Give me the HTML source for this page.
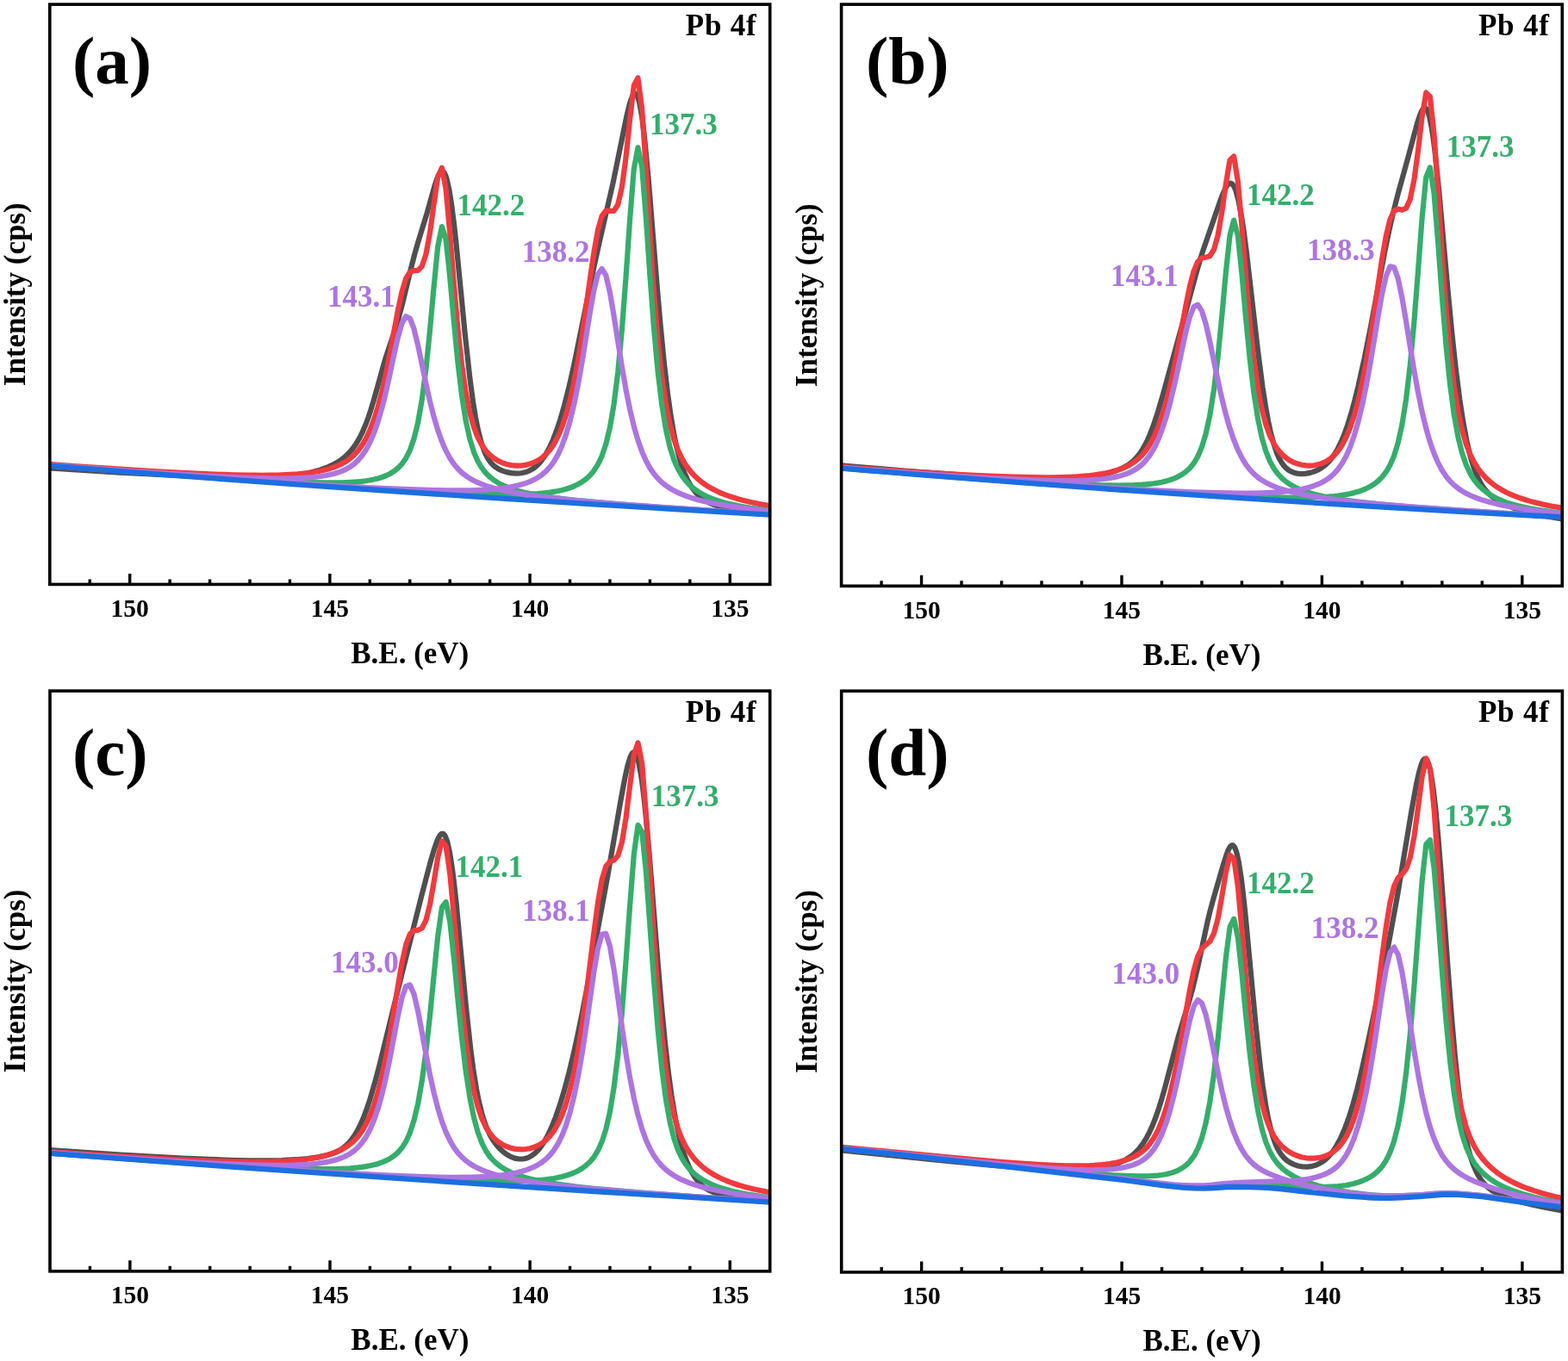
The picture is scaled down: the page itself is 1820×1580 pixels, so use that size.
<!DOCTYPE html>
<html><head><meta charset="utf-8"><title>Pb 4f XPS</title>
<style>html,body{margin:0;padding:0;background:#fff;width:1820px;height:1580px;overflow:hidden}svg{display:block}</style>
</head><body>
<svg width="1820" height="1580" viewBox="0 0 1820 1580" font-family="'Liberation Serif', 'Times New Roman', serif" font-weight="bold">
<rect width="1820" height="1580" fill="#fff"/>
<clipPath id="clipa"><rect x="57.8" y="5.1" width="835.9" height="673.3"/></clipPath>
<g clip-path="url(#clipa)" fill="none" stroke-linejoin="round" stroke-linecap="round">
<path d="M902.99,595.9 L869.55,593.13 L857.48,591.84 L848.19,590.57 L840.76,589.24 L834.26,587.69 L828.69,585.92 L823.11,583.57 L817.54,580.4 L812.9,576.93 L808.25,572.42 L804.54,567.87 L800.82,562.23 L798.04,557.11 L794.32,548.8 L791.53,541.2 L788.75,532.16 L786.89,525.2 L784.1,513.15 L782.25,503.91 L778.53,482.12 L774.82,455.39 L771.1,423.34 L766.46,375.84 L762.74,332.73 L752.53,206.37 L747.88,157.7 L745.1,135.37 L742.31,119.6 L741.38,115.88 L739.52,110.76 L738.59,109.32 L737.67,108.57 L736.74,108.5 L735.81,109.05 L734.88,110.18 L733.95,111.84 L732.09,116.57 L730.24,122.86 L727.45,134.44 L711.66,211.88 L695.87,280.43 L689.37,310.03 L666.15,424.02 L660.58,448.71 L655,470.77 L650.36,486.88 L646.65,498.21 L642,510.42 L637.36,520.57 L632.71,528.8 L628.07,535.31 L623.43,540.3 L620.64,542.66 L617.85,544.6 L614.14,546.6 L609.49,548.29 L604.85,549.24 L599.28,549.57 L593.7,549.16 L588.13,548.09 L583.49,546.66 L578.84,544.58 L575.13,542.24 L572.34,539.93 L569.56,536.94 L566.77,533.06 L563.98,528.01 L562.13,523.83 L558.41,513.04 L554.7,498.26 L551.91,484.05 L549.12,466.88 L545.41,439.22 L539.84,388.48 L529.62,283.9 L526.83,258.54 L524.05,236.8 L521.26,219.58 L518.47,207.47 L517.54,204.6 L515.69,200.62 L514.76,199.47 L513.83,198.86 L512.9,198.77 L511.97,199.17 L511.04,200.02 L509.19,202.95 L507.33,207.26 L504.54,215.62 L495.25,248.65 L485.04,281.91 L481.32,294.86 L476.68,312.86 L467.39,351.46 L462.75,369.02 L458.1,384.28 L446.96,417.56 L433.95,464.07 L430.24,476.36 L427.45,484.7 L424.67,492.24 L420.95,501.06 L417.24,508.57 L413.52,514.92 L409.81,520.27 L406.09,524.78 L401.45,529.46 L396.8,533.28 L389.37,538.1 L381.01,542.15 L371.73,545.49 L361.51,548.19 L349.44,550.44 L336.43,552.07 L321.57,553.24 L304.85,553.94 L285.35,554.2 L263.99,554.01 L238.91,553.38 L210.12,552.27 L139.53,548.59 L48.51,542.77" stroke="#4f4f4f" stroke-width="6.2"/>
<path d="M916.92,590.71 L907.63,589.42 L898.34,588.01 L884.41,585.6 L875.12,583.74 L870.48,582.72 L861.19,580.45 L856.55,579.18 L851.9,577.8 L847.26,576.3 L842.62,574.65 L837.97,572.83 L833.33,570.81 L828.69,568.55 L824.04,566.01 L819.4,563.14 L814.75,559.85 L810.11,556.06 L805.47,551.64 L800.82,546.4 L796.18,540.11 L791.53,532.36 L786.89,522.58 L782.25,509.83 L777.6,492.77 L772.96,469.53 L768.32,437.78 L763.67,395.02 L759.03,339.2 L754.38,270.32 L749.74,193.94 L745.1,126 L740.45,90.43 L735.81,99.29 L731.16,138.23 L726.52,182.77 L721.88,217.39 L717.23,237.5 L712.59,244.89 L707.94,244.89 L703.3,244.57 L698.66,250.67 L694.01,266.96 L689.37,292.86 L684.73,324.72 L680.08,358.28 L675.44,390.37 L670.79,419.21 L666.15,444.09 L661.51,464.96 L656.86,482.07 L652.22,495.87 L647.57,506.84 L642.93,515.48 L638.29,522.23 L633.64,527.46 L629,531.51 L624.35,534.6 L619.71,536.92 L615.07,538.61 L610.42,539.77 L605.78,540.44 L601.13,540.66 L596.49,540.45 L591.85,539.8 L587.2,538.69 L582.56,537.06 L577.92,534.85 L573.27,531.94 L568.63,528.17 L563.98,523.26 L559.34,516.78 L554.7,508.07 L550.05,496.09 L545.41,479.4 L540.76,456.13 L536.12,424.25 L531.48,382.01 L526.83,329.34 L522.19,270.73 L517.55,219.39 L512.9,194.78 L508.26,205.09 L503.61,236.87 L498.97,270.66 L494.33,295.58 L489.68,309.23 L485.04,313.87 L480.39,314.21 L475.75,315.87 L471.11,323.47 L466.46,338.82 L461.82,360.51 L452.53,410.65 L447.89,434.14 L443.24,454.91 L438.6,472.66 L433.95,487.46 L429.31,499.58 L424.67,509.38 L420.02,517.22 L415.38,523.48 L410.74,528.48 L406.09,532.48 L401.45,535.72 L396.8,538.37 L392.16,540.55 L387.52,542.37 L382.87,543.91 L378.23,545.21 L373.58,546.31 L368.94,547.26 L364.3,548.06 L359.65,548.75 L355.01,549.33 L345.72,550.25 L341.08,550.6 L331.79,551.14 L322.5,551.48 L313.21,551.67 L303.93,551.73 L294.64,551.7 L285.35,551.58 L271.42,551.28 L243.56,550.33 L211.05,548.82 L173.9,546.75 L132.1,544.14 L85.66,541 L34.58,537.34" stroke="#f03a3e" stroke-width="6.2"/>
<path d="M916.92,595.25 L898.34,593.31 L884.41,591.61 L870.48,589.6 L861.19,588.03 L856.55,587.15 L847.26,585.15 L842.62,584 L837.97,582.73 L833.33,581.3 L828.69,579.71 L824.04,577.89 L819.4,575.82 L814.75,573.42 L810.11,570.62 L805.47,567.3 L800.82,563.31 L796.18,558.42 L791.53,552.27 L786.89,544.31 L782.25,533.68 L777.6,519.1 L772.96,498.8 L768.32,470.59 L763.67,432.14 L759.03,381.65 L754.38,319.41 L749.74,251.35 L745.1,193.82 L740.45,171.21 L735.81,196.04 L731.16,254.34 L726.52,321.82 L721.88,382.85 L717.23,432.01 L712.59,469.2 L707.94,496.28 L703.3,515.61 L698.66,529.33 L694.01,539.2 L689.37,546.45 L684.73,551.94 L680.08,556.2 L675.44,559.58 L670.79,562.3 L666.15,564.51 L661.51,566.32 L656.86,567.81 L652.22,569.04 L647.57,570.06 L642.93,570.91 L638.29,571.61 L633.64,572.18 L624.35,573.04 L619.71,573.35 L610.42,573.79 L601.13,574.02 L591.85,574.11 L582.56,574.08 L568.63,573.86 L554.7,573.49 L540.76,573.01 L522.19,572.24 L503.61,571.35 L461.82,569.07 L406.09,565.67 L345.72,561.7 L276.06,556.86 L197.12,551.14 L118.17,545.2 L34.58,538.7" stroke="#35ad6b" stroke-width="6.2"/>
<path d="M916.92,598.4 L865.84,595.33 L819.4,592.42 L777.6,589.65 L740.45,587 L707.94,584.45 L684.73,582.41 L666.15,580.55 L647.57,578.39 L633.64,576.46 L624.35,574.94 L619.71,574.09 L610.42,572.16 L605.78,571.04 L601.13,569.79 L596.49,568.39 L591.85,566.8 L587.2,564.98 L582.56,562.86 L577.92,560.37 L573.27,557.39 L568.63,553.77 L563.98,549.24 L559.34,543.4 L554.7,535.62 L550.05,524.91 L545.41,509.91 L540.76,488.87 L536.12,459.88 L531.48,421.39 L526.83,373.57 L522.19,321.19 L517.55,277.79 L512.9,263.16 L508.26,285.83 L503.61,332.59 L498.97,384.09 L494.33,429.2 L489.68,464.64 L485.04,490.9 L480.39,509.65 L475.75,522.83 L471.11,532.08 L466.46,538.69 L461.82,543.54 L457.17,547.19 L452.53,550.02 L447.89,552.24 L443.24,554.01 L438.6,555.42 L433.95,556.56 L429.31,557.48 L424.67,558.22 L420.02,558.81 L415.38,559.28 L410.74,559.65 L406.09,559.93 L396.8,560.29 L387.52,560.44 L378.23,560.43 L359.65,560.08 L336.43,559.23 L313.21,558.11 L280.71,556.26 L243.56,553.9 L201.76,551.05 L150.68,547.39 L94.95,543.24 L34.58,538.58" stroke="#35ad6b" stroke-width="6.2"/>
<path d="M916.92,595.46 L898.34,593.75 L879.77,591.83 L861.19,589.61 L847.26,587.64 L833.33,585.32 L824.04,583.49 L814.75,581.36 L810.11,580.15 L805.47,578.83 L800.82,577.37 L796.18,575.76 L791.53,573.95 L786.89,571.92 L782.25,569.59 L777.6,566.91 L772.96,563.78 L768.32,560.05 L763.67,555.55 L759.03,550.03 L754.38,543.21 L749.74,534.72 L745.1,524.14 L740.45,511.01 L735.81,494.88 L731.16,475.38 L726.52,452.28 L721.88,425.74 L717.23,396.55 L712.59,366.65 L707.94,339.45 L703.3,319.71 L698.66,312.01 L694.01,318.36 L689.37,336.95 L684.73,363.28 L675.44,421.27 L670.79,447.42 L666.15,470.14 L661.51,489.27 L656.86,505 L652.22,517.72 L647.57,527.86 L642.93,535.88 L638.29,542.21 L633.64,547.21 L629,551.19 L624.35,554.38 L619.71,556.97 L615.07,559.1 L610.42,560.86 L605.78,562.33 L601.13,563.58 L596.49,564.62 L591.85,565.51 L587.2,566.26 L577.92,567.44 L573.27,567.89 L563.98,568.57 L554.7,569.02 L545.41,569.29 L536.12,569.42 L526.83,569.43 L517.55,569.35 L503.61,569.08 L489.68,568.69 L475.75,568.19 L443.24,566.74 L401.45,564.5 L355.01,561.69 L303.93,558.36 L243.56,554.2 L178.54,549.51 L108.88,544.3 L34.58,538.56" stroke="#ad75e0" stroke-width="6.2"/>
<path d="M916.92,598.27 L870.48,595.47 L824.04,592.56 L782.25,589.79 L745.1,587.19 L712.59,584.73 L684.73,582.42 L661.51,580.27 L642.93,578.34 L624.35,576.11 L610.42,574.16 L596.49,571.85 L587.2,570.03 L577.92,567.89 L573.27,566.67 L568.63,565.33 L563.98,563.83 L559.34,562.15 L554.7,560.24 L550.05,558.05 L545.41,555.48 L540.76,552.43 L536.12,548.74 L531.48,544.24 L526.83,538.67 L522.19,531.75 L517.55,523.15 L512.9,512.52 L508.26,499.55 L503.61,483.96 L498.97,465.67 L494.33,444.92 L485.04,400.42 L480.39,381.48 L475.75,369.45 L471.11,367.3 L466.46,375.54 L461.82,391.9 L457.17,412.71 L452.53,434.62 L447.89,455.43 L443.24,473.98 L438.6,489.87 L433.95,503.09 L429.31,513.85 L424.67,522.48 L420.02,529.3 L415.38,534.67 L410.74,538.88 L406.09,542.19 L401.45,544.81 L396.8,546.89 L392.16,548.58 L387.52,549.94 L382.87,551.06 L378.23,551.99 L373.58,552.75 L368.94,553.38 L359.65,554.31 L350.37,554.92 L345.72,555.13 L336.43,555.39 L322.5,555.48 L303.93,555.21 L285.35,554.63 L262.13,553.63 L234.27,552.17 L201.76,550.21 L164.61,547.78 L127.46,545.19 L81.02,541.8 L34.58,538.29" stroke="#ad75e0" stroke-width="6.2"/>
<path d="M902.99,598.1 L796.18,591.9 L689.37,585.4 L582.56,578.59 L475.75,571.49 L368.94,564.08 L262.13,556.37 L155.32,548.36 L48.51,540.04" stroke="#1c6ee1" stroke-width="6.3"/>
</g>
<rect x="57.8" y="5.1" width="835.9" height="673.3" fill="none" stroke="#000" stroke-width="3.6"/>
<path d="M847.26,678.4 V665.9 M800.82,678.4 V672.4 M754.38,678.4 V672.4 M707.94,678.4 V672.4 M661.51,678.4 V672.4 M615.07,678.4 V665.9 M568.63,678.4 V672.4 M522.19,678.4 V672.4 M475.75,678.4 V672.4 M429.31,678.4 V672.4 M382.87,678.4 V665.9 M336.43,678.4 V672.4 M289.99,678.4 V672.4 M243.56,678.4 V672.4 M197.12,678.4 V672.4 M150.68,678.4 V665.9 M104.24,678.4 V672.4" stroke="#000" stroke-width="3.4" fill="none"/>
<text x="150.68" y="716" text-anchor="middle" font-size="29.5">150</text>
<text x="382.87" y="716" text-anchor="middle" font-size="29.5">145</text>
<text x="615.07" y="716" text-anchor="middle" font-size="29.5">140</text>
<text x="847.26" y="716" text-anchor="middle" font-size="29.5">135</text>
<text x="475.75" y="770.2" text-anchor="middle" font-size="35">B.E. (eV)</text>
<text transform="translate(28.9,341.75) rotate(-90)" text-anchor="middle" font-size="35">Intensity (cps)</text>
<text x="84" y="96.8" font-size="79">(a)</text>
<text x="795.8" y="40.9" font-size="35" letter-spacing="0.8">Pb 4f</text>
<text x="380" y="355.8" font-size="35" fill="#ad75e0">143.1</text>
<text x="530.5" y="250" font-size="35" fill="#35ad6b">142.2</text>
<text x="605.7" y="304" font-size="35" fill="#ad75e0">138.2</text>
<text x="754.1" y="156.4" font-size="35" fill="#35ad6b">137.3</text>
<clipPath id="clipb"><rect x="976.6" y="5.1" width="836.7" height="675.2"/></clipPath>
<g clip-path="url(#clipb)" fill="none" stroke-linejoin="round" stroke-linecap="round">
<path d="M1822.6,603.85 L1808.65,601.75 L1795.64,599.49 L1783.55,597.05 L1773.32,594.62 L1764.03,592.02 L1755.66,589.24 L1748.22,586.28 L1741.72,583.13 L1736.14,579.8 L1731.49,576.35 L1726.84,572.01 L1723.12,567.63 L1719.4,562.14 L1716.61,557.09 L1713.83,551.05 L1711.04,543.82 L1708.25,535.2 L1706.39,528.57 L1702.67,512.89 L1698.02,488.13 L1694.3,463.71 L1689.65,427.07 L1685.01,383.8 L1680.36,334.87 L1670.13,220.28 L1665.48,175.45 L1663.62,160.77 L1661.76,148.45 L1658.98,134.85 L1658.05,131.65 L1656.19,127.26 L1655.26,126.02 L1654.33,125.37 L1653.4,125.29 L1652.47,125.74 L1651.54,126.68 L1649.68,129.82 L1647.82,134.36 L1645.03,143.02 L1632.94,188.04 L1622.72,224.93 L1617.14,246.67 L1612.49,266.94 L1607.84,289.35 L1591.11,378.74 L1583.67,416.09 L1576.23,449.53 L1572.52,464.55 L1568.8,478.29 L1564.15,493.48 L1560.43,503.96 L1556.71,512.97 L1552.06,522.29 L1547.42,529.7 L1542.77,535.5 L1538.12,539.98 L1532.54,544 L1528.82,546 L1524.17,547.88 L1519.53,549.15 L1514.88,549.88 L1510.23,550.06 L1505.58,549.63 L1501.86,548.74 L1498.14,547.21 L1495.35,545.51 L1492.56,543.2 L1489.78,540.13 L1486.99,536.1 L1484.2,530.91 L1482.34,526.69 L1478.62,516.07 L1474.9,502.11 L1472.11,489.15 L1469.32,473.91 L1465.6,450 L1460.03,407.16 L1447.01,294 L1444.22,272.49 L1441.43,253.64 L1437.71,233.64 L1434.93,222.95 L1434,220.24 L1432.14,216.09 L1430.28,213.6 L1429.35,212.94 L1428.42,212.65 L1427.49,212.72 L1426.56,213.13 L1425.63,213.86 L1423.77,216.16 L1421.91,219.44 L1419.12,225.77 L1415.4,235.83 L1395.88,292.27 L1392.16,304.31 L1387.51,320.58 L1373.57,372.15 L1349.4,459.94 L1343.82,478.75 L1338.24,495.39 L1334.52,504.97 L1331.73,511.29 L1328.94,516.88 L1325.22,523.26 L1322.44,527.3 L1318.72,531.81 L1315,535.49 L1310.35,539.15 L1303.84,542.99 L1295.48,546.51 L1286.18,549.27 L1275.02,551.59 L1262.94,553.3 L1248.99,554.54 L1234.12,555.25 L1216.45,555.51 L1196.93,555.3 L1174.62,554.6 L1149.52,553.43 L1121.63,551.79 L1052.83,546.82 L967.3,539.59" stroke="#4f4f4f" stroke-width="6.2"/>
<path d="M1836.54,593.19 L1827.25,591.93 L1817.95,590.54 L1804,588.18 L1794.71,586.36 L1790.06,585.36 L1780.76,583.13 L1776.11,581.88 L1771.46,580.53 L1766.82,579.05 L1762.17,577.43 L1757.52,575.65 L1752.87,573.68 L1748.22,571.48 L1743.57,569 L1738.93,566.21 L1734.28,563.03 L1729.63,559.36 L1724.98,555.1 L1720.33,550.08 L1715.69,544.05 L1711.04,536.67 L1706.39,527.39 L1701.74,515.36 L1697.09,499.37 L1692.44,477.77 L1687.8,448.48 L1683.15,409.29 L1678.5,358.29 L1673.85,295.13 L1669.2,223.63 L1664.55,155.82 L1659.9,112.11 L1655.26,107.62 L1650.61,135.67 L1645.96,175.2 L1641.31,209.47 L1636.66,231.69 L1632.01,241.86 L1627.37,243.66 L1622.72,242.64 L1618.07,244.83 L1613.42,254.76 L1608.77,273.93 L1604.12,300.67 L1599.48,331.67 L1594.83,363.6 L1590.18,394.06 L1585.53,421.66 L1580.88,445.77 L1576.24,466.25 L1571.59,483.26 L1566.94,497.09 L1562.29,508.16 L1557.64,516.89 L1552.99,523.68 L1548.35,528.89 L1543.7,532.85 L1539.05,535.8 L1534.4,537.92 L1529.75,539.37 L1525.1,540.23 L1520.45,540.57 L1515.81,540.41 L1511.16,539.77 L1506.51,538.61 L1501.86,536.9 L1497.21,534.55 L1492.56,531.45 L1487.92,527.41 L1483.27,522.13 L1478.62,515.14 L1473.97,505.74 L1469.32,492.85 L1464.67,475.06 L1460.03,450.58 L1455.38,417.54 L1450.73,374.46 L1446.08,321.44 L1441.43,262.71 L1436.79,210.12 L1432.14,181.39 L1427.49,185.91 L1422.84,213.76 L1418.19,246.93 L1413.54,273.6 L1408.9,289.99 L1404.25,297.2 L1399.6,298.8 L1394.95,299.48 L1390.3,303.81 L1385.65,314.65 L1381,332.33 L1376.36,355.04 L1367.06,405.23 L1362.41,428.8 L1357.76,449.95 L1353.11,468.34 L1348.47,483.95 L1343.82,496.95 L1339.17,507.6 L1334.52,516.23 L1329.87,523.16 L1325.22,528.7 L1320.58,533.14 L1315.93,536.72 L1311.28,539.62 L1306.63,542.01 L1301.98,543.98 L1297.34,545.63 L1292.69,547.03 L1288.04,548.22 L1283.39,549.23 L1278.74,550.11 L1274.09,550.85 L1269.45,551.49 L1264.8,552.04 L1255.5,552.9 L1250.85,553.24 L1241.55,553.74 L1232.26,554.06 L1222.96,554.24 L1213.66,554.29 L1199.72,554.2 L1176.48,553.68 L1148.59,552.63 L1120.7,551.28 L1083.51,549.15 L1046.33,546.75 L999.84,543.5 L953.36,540.04" stroke="#f03a3e" stroke-width="6.2"/>
<path d="M1836.54,598.01 L1817.95,596.16 L1804,594.53 L1790.06,592.6 L1780.76,591.09 L1776.11,590.24 L1766.82,588.31 L1762.17,587.2 L1757.52,585.97 L1752.87,584.6 L1748.22,583.07 L1743.57,581.33 L1738.93,579.34 L1734.28,577.04 L1729.63,574.37 L1724.98,571.2 L1720.33,567.41 L1715.69,562.78 L1711.04,556.99 L1706.39,549.52 L1701.74,539.6 L1697.09,526.09 L1692.44,507.44 L1687.8,481.74 L1683.15,446.94 L1678.5,401.4 L1673.85,345.06 L1669.2,282.08 L1664.55,224.9 L1659.9,194.31 L1655.26,205.81 L1650.61,252.99 L1645.96,314.94 L1641.31,374.7 L1636.66,424.83 L1632.01,463.87 L1627.37,492.96 L1622.72,514.05 L1618.07,529.16 L1613.42,540.02 L1608.77,547.96 L1604.12,553.91 L1599.48,558.48 L1594.83,562.08 L1590.18,564.97 L1585.53,567.31 L1580.88,569.23 L1576.24,570.81 L1571.59,572.11 L1566.94,573.2 L1562.29,574.1 L1557.64,574.84 L1552.99,575.46 L1548.35,575.97 L1539.05,576.73 L1529.75,577.21 L1520.45,577.49 L1511.16,577.61 L1501.86,577.6 L1492.56,577.5 L1478.62,577.21 L1450.73,576.26 L1432.14,575.45 L1413.54,574.53 L1367.06,571.93 L1311.28,568.44 L1246.2,564.04 L1176.48,559.04 L1106.75,553.81 L1032.38,548 L953.36,541.58" stroke="#35ad6b" stroke-width="6.2"/>
<path d="M1836.54,601.07 L1785.41,598.2 L1738.93,595.42 L1697.09,592.74 L1659.9,590.15 L1632.01,588 L1604.12,585.55 L1585.53,583.66 L1576.24,582.6 L1566.94,581.43 L1552.99,579.4 L1543.7,577.8 L1539.05,576.91 L1529.75,574.85 L1525.1,573.65 L1520.45,572.32 L1515.81,570.82 L1511.16,569.11 L1506.51,567.16 L1501.86,564.88 L1497.21,562.2 L1492.56,559 L1487.92,555.09 L1483.27,550.19 L1478.62,543.87 L1473.97,535.45 L1469.32,523.94 L1464.67,507.98 L1460.03,485.94 L1455.38,456.1 L1450.73,417.18 L1446.08,369.51 L1441.43,317.63 L1436.79,273.67 L1432.14,255.65 L1427.49,273.22 L1422.84,316.64 L1418.19,367.91 L1413.54,414.92 L1408.9,453.18 L1404.25,482.37 L1399.6,503.75 L1394.95,519.06 L1390.3,529.94 L1385.65,537.73 L1381,543.43 L1376.36,547.7 L1371.71,550.99 L1367.06,553.57 L1362.41,555.63 L1357.76,557.29 L1353.11,558.63 L1348.47,559.71 L1343.82,560.59 L1339.17,561.31 L1334.52,561.89 L1329.87,562.35 L1325.22,562.71 L1315.93,563.2 L1306.63,563.45 L1297.34,563.53 L1288.04,563.46 L1278.74,563.29 L1255.5,562.53 L1227.61,561.21 L1195.07,559.34 L1157.89,556.93 L1116.05,554.01 L1064.92,550.23 L1009.14,545.9 L953.36,541.42" stroke="#35ad6b" stroke-width="6.2"/>
<path d="M1836.54,598.06 L1817.95,596.41 L1799.35,594.55 L1780.76,592.37 L1766.82,590.45 L1752.87,588.16 L1743.57,586.36 L1734.28,584.27 L1729.63,583.09 L1724.98,581.8 L1720.33,580.37 L1715.69,578.79 L1711.04,577.02 L1706.39,575.02 L1701.74,572.73 L1697.09,570.07 L1692.44,566.94 L1687.8,563.19 L1683.15,558.62 L1678.5,553.01 L1673.85,546.03 L1669.2,537.36 L1664.55,526.59 L1659.9,513.33 L1655.26,497.21 L1650.61,477.94 L1645.96,455.42 L1641.31,429.81 L1636.66,401.8 L1632.01,372.85 L1627.37,345.48 L1622.72,323.31 L1618.07,310.33 L1613.42,309.37 L1608.77,320.58 L1604.12,341.38 L1599.48,367.82 L1594.83,396.19 L1590.18,423.83 L1585.53,449.19 L1580.88,471.51 L1576.24,490.57 L1571.59,506.46 L1566.94,519.46 L1562.29,529.92 L1557.64,538.25 L1552.99,544.83 L1548.35,550.03 L1543.7,554.13 L1539.05,557.41 L1534.4,560.04 L1529.75,562.19 L1525.1,563.96 L1520.45,565.43 L1515.81,566.67 L1511.16,567.71 L1506.51,568.59 L1501.86,569.35 L1497.21,569.98 L1487.92,570.98 L1483.27,571.36 L1473.97,571.93 L1464.67,572.31 L1455.38,572.52 L1446.08,572.6 L1436.79,572.58 L1427.49,572.47 L1413.54,572.18 L1385.65,571.25 L1353.11,569.77 L1311.28,567.49 L1264.8,564.63 L1209.02,560.91 L1148.59,556.61 L1088.16,552.09 L1023.08,547.03 L953.36,541.4" stroke="#ad75e0" stroke-width="6.2"/>
<path d="M1836.54,600.92 L1790.06,598.29 L1743.57,595.51 L1706.39,593.15 L1669.2,590.63 L1641.31,588.58 L1613.42,586.35 L1590.18,584.28 L1566.94,581.92 L1548.35,579.72 L1534.4,577.8 L1520.45,575.54 L1511.16,573.78 L1506.51,572.79 L1497.21,570.57 L1492.56,569.3 L1487.92,567.89 L1483.27,566.33 L1478.62,564.56 L1473.97,562.54 L1469.32,560.2 L1464.67,557.44 L1460.03,554.13 L1455.38,550.11 L1450.73,545.16 L1446.08,539.05 L1441.43,531.49 L1436.79,522.17 L1432.14,510.79 L1427.49,497.09 L1422.84,480.9 L1418.19,462.2 L1413.54,441.28 L1404.25,396.32 L1399.6,375.99 L1394.95,360.84 L1390.3,353.77 L1385.65,356.31 L1381,367.8 L1376.36,385.75 L1371.71,407.07 L1367.06,429.13 L1362.41,450.16 L1357.76,469.2 L1353.11,485.81 L1348.47,499.89 L1343.82,511.56 L1339.17,521.07 L1334.52,528.68 L1329.87,534.72 L1325.22,539.48 L1320.58,543.23 L1315.93,546.17 L1311.28,548.51 L1306.63,550.38 L1301.98,551.89 L1297.34,553.13 L1292.69,554.14 L1288.04,554.97 L1283.39,555.66 L1278.74,556.24 L1274.09,556.71 L1264.8,557.4 L1260.15,557.64 L1250.85,557.97 L1236.91,558.14 L1218.31,557.95 L1199.72,557.42 L1176.48,556.46 L1148.59,555 L1116.05,553.03 L1078.86,550.54 L1041.68,547.87 L999.84,544.72 L953.36,541.06" stroke="#ad75e0" stroke-width="6.2"/>
<path d="M1822.6,600.9 L1715.68,595.08 L1608.77,588.85 L1501.86,582.22 L1394.95,575.18 L1288.04,567.74 L1181.13,559.89 L1074.21,551.63 L967.3,542.97" stroke="#1c6ee1" stroke-width="6.3"/>
</g>
<rect x="976.6" y="5.1" width="836.7" height="675.2" fill="none" stroke="#000" stroke-width="3.6"/>
<path d="M1766.82,680.3 V667.8 M1720.33,680.3 V674.3 M1673.85,680.3 V674.3 M1627.37,680.3 V674.3 M1580.88,680.3 V674.3 M1534.4,680.3 V667.8 M1487.92,680.3 V674.3 M1441.43,680.3 V674.3 M1394.95,680.3 V674.3 M1348.47,680.3 V674.3 M1301.98,680.3 V667.8 M1255.5,680.3 V674.3 M1209.02,680.3 V674.3 M1162.53,680.3 V674.3 M1116.05,680.3 V674.3 M1069.57,680.3 V667.8 M1023.08,680.3 V674.3" stroke="#000" stroke-width="3.4" fill="none"/>
<text x="1069.57" y="717.5" text-anchor="middle" font-size="29.5">150</text>
<text x="1301.98" y="717.5" text-anchor="middle" font-size="29.5">145</text>
<text x="1534.4" y="717.5" text-anchor="middle" font-size="29.5">140</text>
<text x="1766.82" y="717.5" text-anchor="middle" font-size="29.5">135</text>
<text x="1394.95" y="772" text-anchor="middle" font-size="35">B.E. (eV)</text>
<text transform="translate(947.8,342.7) rotate(-90)" text-anchor="middle" font-size="35">Intensity (cps)</text>
<text x="1005" y="96.8" font-size="79">(b)</text>
<text x="1715.9" y="41" font-size="35" letter-spacing="0.8">Pb 4f</text>
<text x="1289.1" y="332.1" font-size="35" fill="#ad75e0">143.1</text>
<text x="1447" y="237.9" font-size="35" fill="#35ad6b">142.2</text>
<text x="1516.9" y="301.9" font-size="35" fill="#ad75e0">138.3</text>
<text x="1678.7" y="181.9" font-size="35" fill="#35ad6b">137.3</text>
<clipPath id="clipc"><rect x="58" y="802.1" width="835.7" height="673.7"/></clipPath>
<g clip-path="url(#clipc)" fill="none" stroke-linejoin="round" stroke-linecap="round">
<path d="M902.99,1392.8 L863.06,1389.88 L845.42,1388.07 L837.99,1386.84 L832.42,1385.51 L827.77,1384 L823.13,1381.94 L818.49,1379.16 L813.84,1375.4 L810.13,1371.49 L806.42,1366.59 L802.7,1360.47 L799.92,1354.92 L796.2,1345.99 L793.42,1337.94 L788.77,1321.34 L784.13,1299.77 L779.49,1271.95 L775.77,1244.31 L772.06,1211.37 L767.42,1162.74 L763.7,1118.67 L753.49,989.72 L750.7,958.02 L747.92,930.2 L746.06,914.35 L744.2,900.94 L741.42,885.74 L740.49,882.03 L738.63,876.64 L737.7,874.94 L736.77,873.89 L735.85,873.46 L734.92,873.64 L733.99,874.39 L733.06,875.69 L731.2,879.79 L728.42,889.19 L725.63,901.59 L720.99,926.42 L705.2,1017.38 L681.06,1148.66 L675.49,1177.3 L669.92,1204.29 L665.28,1225.2 L660.63,1244.51 L655.06,1265.43 L649.49,1283.8 L644.85,1297.14 L639.28,1310.81 L634.63,1320.28 L631.85,1325.15 L629.06,1329.44 L626.28,1333.17 L623.49,1336.35 L620.7,1339.01 L617.92,1341.18 L614.2,1343.36 L610.49,1344.78 L606.78,1345.5 L602.13,1345.51 L597.49,1344.6 L592.85,1342.83 L588.21,1340.21 L584.49,1337.49 L579.85,1333.2 L576.13,1328.95 L572.42,1323.78 L569.63,1319.15 L566.85,1313.67 L564.06,1307.14 L561.28,1299.26 L559.42,1293.09 L555.71,1278.01 L552.92,1263.83 L549.21,1240.43 L546.42,1219.22 L540.85,1167.78 L529.71,1049.59 L526.92,1024.04 L525.06,1009.26 L522.28,991.1 L519.49,978.19 L518.56,975.07 L516.71,970.55 L515.78,969.12 L514.85,968.21 L513.92,967.8 L512.99,967.84 L512.06,968.32 L511.14,969.2 L509.28,972.02 L507.42,976.02 L503.71,986.61 L499.06,1002.66 L488.85,1041.75 L466.56,1130.22 L440.56,1236.12 L434.99,1257.24 L429.42,1276.23 L425.71,1287.42 L421.99,1297.31 L419.21,1303.86 L415.49,1311.45 L411.78,1317.82 L408.07,1323.09 L404.35,1327.38 L399.71,1331.6 L396.92,1333.64 L393.21,1335.88 L386.71,1338.82 L378.35,1341.39 L369.07,1343.31 L356.99,1344.99 L343.07,1346.22 L327.28,1347.02 L308.71,1347.4 L288.28,1347.33 L266,1346.86 L211.21,1344.64 L139.71,1340.56 L48.71,1334.46" stroke="#4f4f4f" stroke-width="6.2"/>
<path d="M916.91,1388.04 L902.99,1385.89 L889.06,1383.41 L879.77,1381.51 L875.13,1380.47 L865.84,1378.16 L861.2,1376.87 L856.56,1375.48 L851.91,1373.96 L847.27,1372.31 L842.63,1370.49 L837.99,1368.48 L833.34,1366.25 L828.7,1363.75 L824.06,1360.93 L819.42,1357.74 L814.77,1354.07 L810.13,1349.82 L805.49,1344.84 L800.84,1338.88 L796.2,1331.58 L791.56,1322.39 L786.92,1310.46 L782.27,1294.53 L777.63,1272.92 L772.99,1243.59 L768.35,1204.35 L763.7,1153.39 L759.06,1090.18 L749.77,943.54 L745.13,885.82 L740.49,862.36 L735.85,876.28 L731.2,911.82 L726.56,949.49 L721.92,977.7 L717.27,993.25 L712.63,998.68 L707.99,1000.21 L703.35,1005.6 L698.7,1020.85 L694.06,1047.39 L689.42,1082.14 L684.77,1120.19 L680.13,1157.37 L675.49,1191.18 L670.85,1220.51 L666.2,1245.16 L661.56,1265.38 L656.92,1281.67 L652.28,1294.6 L647.63,1304.74 L642.99,1312.65 L638.35,1318.77 L633.7,1323.48 L629.06,1327.09 L624.42,1329.81 L619.78,1331.8 L615.13,1333.18 L610.49,1334.01 L605.85,1334.35 L601.2,1334.2 L596.56,1333.57 L591.92,1332.43 L587.28,1330.74 L582.63,1328.4 L577.99,1325.3 L573.35,1321.22 L568.71,1315.83 L564.06,1308.61 L559.42,1298.79 L554.78,1285.34 L550.13,1266.93 L545.49,1242.07 L540.85,1209.37 L536.21,1168 L531.56,1118.52 L526.92,1064.49 L522.28,1014.61 L517.64,982.11 L512.99,976.63 L508.35,994.77 L503.71,1023.28 L499.06,1049.89 L494.42,1068.33 L489.78,1077.48 L485.14,1079.81 L480.49,1080.2 L475.85,1084.41 L471.21,1096.67 L466.56,1117.57 L461.92,1144.45 L457.28,1173.52 L452.64,1201.69 L447.99,1227.18 L443.35,1249.24 L438.71,1267.77 L434.06,1283.01 L429.42,1295.34 L424.78,1305.22 L420.14,1313.09 L415.49,1319.34 L410.85,1324.34 L406.21,1328.36 L401.57,1331.64 L396.92,1334.34 L392.28,1336.59 L387.64,1338.48 L382.99,1340.08 L378.35,1341.45 L373.71,1342.62 L369.07,1343.63 L364.42,1344.5 L359.78,1345.24 L355.14,1345.88 L345.85,1346.9 L341.21,1347.3 L331.92,1347.91 L322.64,1348.33 L313.35,1348.59 L304.07,1348.72 L294.78,1348.74 L285.5,1348.68 L271.57,1348.45 L257.64,1348.09 L243.71,1347.63 L211.21,1346.26 L174.07,1344.34 L132.28,1341.89 L85.86,1338.92 L34.79,1335.45" stroke="#f03a3e" stroke-width="6.2"/>
<path d="M916.91,1393.02 L898.34,1390.93 L884.41,1389.1 L870.49,1386.93 L861.2,1385.22 L851.91,1383.22 L847.27,1382.08 L842.63,1380.82 L837.99,1379.42 L833.34,1377.86 L828.7,1376.1 L824.06,1374.1 L819.42,1371.81 L814.77,1369.15 L810.13,1366.03 L805.49,1362.3 L800.84,1357.76 L796.2,1352.07 L791.56,1344.71 L786.92,1334.89 L782.27,1321.41 L777.63,1302.7 L772.99,1276.82 L768.35,1241.75 L763.7,1195.93 L759.06,1139.11 L749.77,1010.58 L745.13,965.55 L740.49,957.9 L735.85,991.29 L731.2,1050.33 L726.56,1115.65 L721.92,1175.2 L717.27,1224.28 L712.63,1262.3 L707.99,1290.51 L703.35,1310.86 L698.7,1325.34 L694.06,1335.67 L689.42,1343.18 L684.77,1348.78 L680.13,1353.09 L675.49,1356.49 L670.85,1359.22 L666.2,1361.44 L661.56,1363.27 L656.92,1364.78 L652.28,1366.03 L647.63,1367.07 L642.99,1367.94 L638.35,1368.66 L633.7,1369.25 L629.06,1369.75 L624.42,1370.15 L615.13,1370.74 L605.85,1371.1 L596.56,1371.28 L587.28,1371.32 L573.35,1371.2 L559.42,1370.9 L545.49,1370.47 L512.99,1369.12 L471.21,1366.96 L420.14,1363.96 L359.78,1360.11 L285.5,1355.11 L206.57,1349.57 L123,1343.52 L34.79,1336.94" stroke="#35ad6b" stroke-width="6.2"/>
<path d="M916.91,1396.37 L865.84,1393.12 L819.42,1390.04 L777.63,1387.09 L745.13,1384.63 L712.63,1381.91 L689.42,1379.72 L670.85,1377.71 L661.56,1376.59 L652.28,1375.35 L638.35,1373.22 L629.06,1371.54 L624.42,1370.6 L615.13,1368.44 L610.49,1367.2 L605.85,1365.81 L601.2,1364.26 L596.56,1362.49 L591.92,1360.47 L587.28,1358.13 L582.63,1355.38 L577.99,1352.08 L573.35,1348.02 L568.71,1342.87 L564.06,1336.15 L559.42,1327.12 L554.78,1314.77 L550.13,1297.83 L545.49,1274.93 L540.85,1244.78 L536.21,1206.72 L531.56,1161.53 L526.92,1113.06 L522.28,1070.36 L517.64,1047.04 L512.99,1053.14 L508.35,1085.66 L503.71,1131.63 L499.06,1178.86 L494.42,1220.69 L489.78,1254.8 L485.14,1281.16 L480.49,1300.77 L475.85,1315 L471.21,1325.2 L466.56,1332.54 L461.92,1337.9 L457.28,1341.92 L452.64,1345.01 L447.99,1347.44 L443.35,1349.38 L438.71,1350.95 L434.06,1352.24 L429.42,1353.29 L424.78,1354.15 L420.14,1354.85 L415.49,1355.42 L406.21,1356.25 L401.57,1356.53 L392.28,1356.92 L378.35,1357.13 L369.07,1357.1 L359.78,1356.96 L336.57,1356.28 L313.35,1355.29 L285.5,1353.84 L248.35,1351.65 L206.57,1348.97 L155.5,1345.49 L99.79,1341.53 L34.79,1336.76" stroke="#35ad6b" stroke-width="6.2"/>
<path d="M916.91,1393.29 L898.34,1391.46 L879.77,1389.4 L870.49,1388.26 L861.2,1387 L847.27,1384.87 L837.99,1383.23 L833.34,1382.33 L824.06,1380.32 L814.77,1377.97 L810.13,1376.63 L805.49,1375.15 L800.84,1373.52 L796.2,1371.7 L791.56,1369.66 L786.92,1367.35 L782.27,1364.69 L777.63,1361.6 L772.99,1357.96 L768.35,1353.6 L763.7,1348.28 L759.06,1341.71 L754.42,1333.52 L749.77,1323.26 L745.13,1310.42 L740.49,1294.45 L735.85,1274.84 L731.2,1251.2 L726.56,1223.42 L721.92,1191.97 L717.27,1158.33 L712.63,1125.65 L707.99,1098.88 L703.35,1083.86 L698.7,1084.58 L694.06,1100.75 L689.42,1127.98 L680.13,1193.33 L675.49,1223.8 L670.85,1250.48 L666.2,1273.02 L661.56,1291.56 L656.92,1306.53 L652.28,1318.43 L647.63,1327.82 L642.99,1335.2 L638.35,1341 L633.7,1345.6 L629.06,1349.27 L624.42,1352.25 L619.78,1354.69 L615.13,1356.71 L610.49,1358.4 L605.85,1359.82 L601.2,1361.02 L596.56,1362.04 L591.92,1362.91 L587.28,1363.65 L582.63,1364.27 L577.99,1364.8 L568.71,1365.61 L559.42,1366.16 L550.13,1366.51 L540.85,1366.71 L531.56,1366.77 L522.28,1366.74 L508.35,1366.53 L485.14,1365.89 L452.64,1364.57 L415.49,1362.7 L369.07,1360.02 L318,1356.82 L257.64,1352.81 L188,1347.98 L113.71,1342.64 L34.79,1336.8" stroke="#ad75e0" stroke-width="6.2"/>
<path d="M916.91,1396.33 L865.84,1393.09 L819.42,1390.03 L777.63,1387.14 L745.13,1384.76 L712.63,1382.21 L684.77,1379.82 L661.56,1377.59 L642.99,1375.57 L624.42,1373.24 L610.49,1371.18 L601.2,1369.6 L596.56,1368.73 L587.28,1366.78 L577.99,1364.48 L573.35,1363.17 L568.71,1361.71 L564.06,1360.09 L559.42,1358.25 L554.78,1356.16 L550.13,1353.75 L545.49,1350.91 L540.85,1347.53 L536.21,1343.42 L531.56,1338.36 L526.92,1332.06 L522.28,1324.19 L517.64,1314.34 L512.99,1302.11 L508.35,1287.1 L503.71,1269.03 L499.06,1247.82 L494.42,1223.85 L489.78,1198.34 L485.14,1173.77 L480.49,1154.01 L475.85,1143.48 L471.21,1145.02 L466.56,1158.09 L461.92,1179.13 L452.64,1228.31 L447.99,1250.91 L443.35,1270.56 L438.71,1287.07 L434.06,1300.59 L429.42,1311.43 L424.78,1320.02 L420.14,1326.75 L415.49,1332.02 L410.85,1336.13 L406.21,1339.38 L401.57,1341.95 L396.92,1344.02 L392.28,1345.7 L387.64,1347.08 L382.99,1348.22 L378.35,1349.16 L373.71,1349.94 L369.07,1350.59 L359.78,1351.56 L350.5,1352.21 L345.85,1352.43 L336.57,1352.73 L322.64,1352.86 L304.07,1352.65 L285.5,1352.13 L262.28,1351.19 L234.43,1349.8 L206.57,1348.21 L174.07,1346.19 L132.28,1343.43 L85.86,1340.2 L34.79,1336.52" stroke="#ad75e0" stroke-width="6.2"/>
<path d="M902.99,1396.16 L689.42,1382.99 L475.85,1368.95 L262.28,1354.03 L48.71,1338.25" stroke="#1c6ee1" stroke-width="6.3"/>
</g>
<rect x="58" y="802.1" width="835.7" height="673.7" fill="none" stroke="#000" stroke-width="3.6"/>
<path d="M847.27,1475.8 V1463.3 M800.84,1475.8 V1469.8 M754.42,1475.8 V1469.8 M707.99,1475.8 V1469.8 M661.56,1475.8 V1469.8 M615.13,1475.8 V1463.3 M568.71,1475.8 V1469.8 M522.28,1475.8 V1469.8 M475.85,1475.8 V1469.8 M429.42,1475.8 V1469.8 M382.99,1475.8 V1463.3 M336.57,1475.8 V1469.8 M290.14,1475.8 V1469.8 M243.71,1475.8 V1469.8 M197.28,1475.8 V1469.8 M150.86,1475.8 V1463.3 M104.43,1475.8 V1469.8" stroke="#000" stroke-width="3.4" fill="none"/>
<text x="150.86" y="1513" text-anchor="middle" font-size="29.5">150</text>
<text x="382.99" y="1513" text-anchor="middle" font-size="29.5">145</text>
<text x="615.13" y="1513" text-anchor="middle" font-size="29.5">140</text>
<text x="847.27" y="1513" text-anchor="middle" font-size="29.5">135</text>
<text x="475.85" y="1567" text-anchor="middle" font-size="35">B.E. (eV)</text>
<text transform="translate(28.9,1138.95) rotate(-90)" text-anchor="middle" font-size="35">Intensity (cps)</text>
<text x="84" y="900" font-size="79">(c)</text>
<text x="795.8" y="838" font-size="35" letter-spacing="0.8">Pb 4f</text>
<text x="384.1" y="1128.6" font-size="35" fill="#ad75e0">143.0</text>
<text x="528.4" y="1017.9" font-size="35" fill="#35ad6b">142.1</text>
<text x="606.1" y="1068.9" font-size="35" fill="#ad75e0">138.1</text>
<text x="755.8" y="935.6" font-size="35" fill="#35ad6b">137.3</text>
<clipPath id="clipd"><rect x="976.7" y="802.2" width="836.7" height="674.7"/></clipPath>
<g clip-path="url(#clipd)" fill="none" stroke-linejoin="round" stroke-linecap="round">
<path d="M1822.7,1407.26 L1792.95,1401.76 L1779,1398.77 L1767.85,1396.09 L1757.62,1393.29 L1749.25,1390.62 L1742.75,1388.12 L1737.17,1385.43 L1731.59,1382 L1726.94,1378.35 L1723.22,1374.7 L1719.5,1370.17 L1715.78,1364.45 L1713,1359.13 L1710.21,1352.63 L1707.42,1344.66 L1704.63,1334.87 L1702.77,1327.14 L1699.05,1308.2 L1695.33,1283.77 L1692.54,1261.3 L1688.82,1225.38 L1685.11,1182.78 L1681.39,1134.56 L1672.09,1006.1 L1669.3,971.38 L1666.51,941.11 L1663.72,916.45 L1660.93,898.15 L1660,893.52 L1658.15,886.47 L1656.29,882.27 L1655.36,881.2 L1654.43,880.78 L1653.5,880.98 L1652.57,881.76 L1651.64,883.1 L1649.78,887.3 L1646.99,896.81 L1644.2,909.32 L1638.62,939.86 L1621.89,1040.5 L1611.66,1096.29 L1604.22,1132.98 L1587.49,1211.36 L1580.98,1240.66 L1575.41,1263.73 L1570.76,1280.91 L1566.11,1295.96 L1561.46,1308.87 L1555.88,1321.67 L1551.23,1330.3 L1548.44,1334.67 L1545.66,1338.49 L1542.87,1341.8 L1540.08,1344.64 L1537.29,1347.04 L1534.5,1349.05 L1530.78,1351.17 L1526.13,1353.04 L1521.48,1354.17 L1516.84,1354.62 L1512.19,1354.43 L1506.61,1353.43 L1501.96,1351.91 L1497.31,1349.65 L1493.59,1347.13 L1490.81,1344.66 L1488.02,1341.54 L1485.23,1337.56 L1482.44,1332.48 L1480.58,1328.33 L1477.79,1320.72 L1475.93,1314.58 L1472.21,1299.22 L1469.42,1284.64 L1465.7,1260.64 L1462.92,1239.05 L1457.34,1187.35 L1445.25,1058.96 L1442.46,1033.41 L1440.6,1018.68 L1437.81,1000.84 L1435.96,992.1 L1435.03,988.7 L1433.17,983.87 L1432.24,982.39 L1431.31,981.51 L1430.38,981.21 L1429.45,981.43 L1428.52,982.14 L1427.59,983.29 L1425.73,986.74 L1423.87,991.4 L1420.15,1002.96 L1408.07,1044.56 L1404.35,1058.51 L1401.56,1070.06 L1390.4,1122.02 L1384.82,1145.64 L1380.18,1162.4 L1368.09,1202.09 L1352.29,1262.29 L1348.57,1275.41 L1344.85,1287.36 L1341.13,1298.02 L1337.41,1307.37 L1333.69,1315.45 L1329.97,1322.35 L1326.25,1328.18 L1322.54,1333.07 L1317.89,1338.04 L1313.24,1341.99 L1306.73,1346.2 L1299.29,1349.7 L1290.93,1352.49 L1281.63,1354.6 L1270.47,1356.22 L1258.39,1357.21 L1244.44,1357.67 L1228.64,1357.58 L1212.84,1357.06 L1195.17,1356.11 L1152.41,1352.85 L1094.77,1347.39 L967.4,1334.64" stroke="#4f4f4f" stroke-width="6.2"/>
<path d="M1836.64,1395.98 L1827.35,1394.19 L1818.05,1392.25 L1804.1,1389 L1794.81,1386.57 L1790.16,1385.25 L1780.86,1382.37 L1776.21,1380.79 L1771.56,1379.1 L1766.92,1377.28 L1762.27,1375.31 L1757.62,1373.17 L1752.97,1370.84 L1748.32,1368.29 L1743.68,1365.47 L1739.03,1362.27 L1734.38,1358.66 L1729.73,1354.58 L1725.08,1349.94 L1720.43,1344.6 L1715.79,1338.33 L1711.14,1330.75 L1706.49,1321.13 L1701.84,1308.54 L1697.19,1291.68 L1692.54,1268.8 L1687.9,1237.88 L1683.25,1196.87 L1678.6,1144.3 L1673.95,1080.34 L1669.3,1008.81 L1664.65,940.33 L1660,892.64 L1655.36,880.51 L1650.71,901.22 L1646.06,937.14 L1641.41,971.42 L1636.76,995.74 L1632.11,1008.96 L1627.47,1014.61 L1622.82,1018.91 L1618.17,1028.48 L1613.52,1047.45 L1608.87,1075.77 L1604.22,1110.14 L1599.58,1146.45 L1594.93,1181.44 L1590.28,1213.15 L1585.63,1240.71 L1580.98,1263.92 L1576.34,1283 L1571.69,1298.36 L1567.04,1310.46 L1562.39,1319.85 L1557.74,1327.03 L1553.09,1332.47 L1548.45,1336.54 L1543.8,1339.55 L1539.15,1341.72 L1534.5,1343.23 L1529.85,1344.18 L1525.2,1344.65 L1520.55,1344.7 L1515.91,1344.3 L1511.26,1343.44 L1506.61,1342.09 L1501.96,1340.23 L1497.31,1337.81 L1492.66,1334.7 L1488.02,1330.76 L1483.37,1325.68 L1478.72,1319.02 L1474.07,1310.05 L1469.42,1297.75 L1464.78,1280.71 L1460.13,1257.25 L1455.48,1225.74 L1450.83,1185.08 L1446.18,1135.54 L1441.53,1080.65 L1436.89,1029.64 L1432.24,996.93 L1427.59,992.72 L1422.94,1012.26 L1418.29,1040.85 L1413.64,1066.39 L1409,1083.67 L1404.35,1092.73 L1395.05,1101.04 L1390.4,1109.98 L1385.75,1126.13 L1381.1,1148.77 L1376.46,1175.16 L1371.81,1202.33 L1367.16,1228.07 L1362.51,1251.17 L1357.86,1271.1 L1353.21,1287.79 L1348.57,1301.45 L1343.92,1312.42 L1339.27,1321.08 L1334.62,1327.86 L1329.97,1333.13 L1325.33,1337.23 L1320.68,1340.44 L1316.03,1342.98 L1311.38,1345.01 L1306.73,1346.67 L1302.08,1348.05 L1297.44,1349.22 L1292.79,1350.18 L1288.14,1350.97 L1283.49,1351.61 L1278.84,1352.13 L1269.55,1352.86 L1264.9,1353.1 L1255.6,1353.37 L1246.3,1353.42 L1237.01,1353.29 L1223.06,1352.84 L1204.47,1351.91 L1181.23,1350.37 L1157.99,1348.54 L1116.15,1344.81 L1004.59,1334.31 L953.46,1329.59" stroke="#f03a3e" stroke-width="6.2"/>
<path d="M1836.64,1400.43 L1827.35,1398.98 L1818.05,1397.43 L1804.1,1394.87 L1790.16,1391.96 L1780.86,1389.76 L1771.56,1387.27 L1766.92,1385.9 L1762.27,1384.41 L1757.62,1382.8 L1752.97,1381.05 L1748.32,1379.14 L1743.68,1377.01 L1739.03,1374.58 L1734.38,1371.83 L1729.73,1368.7 L1725.08,1365.13 L1720.43,1360.98 L1715.79,1356.07 L1711.14,1350.02 L1706.49,1342.17 L1701.84,1331.64 L1697.19,1317.19 L1692.54,1297.21 L1687.9,1269.8 L1683.25,1233.13 L1678.6,1186.01 L1673.95,1128.93 L1669.3,1066.16 L1664.65,1008.78 L1660,975.04 L1655.36,980.19 L1650.71,1021.86 L1646.06,1082.61 L1641.41,1145.33 L1636.76,1200.76 L1632.11,1245.77 L1627.47,1280.36 L1622.82,1305.95 L1618.17,1324.44 L1613.52,1337.67 L1608.87,1347.18 L1604.22,1354.12 L1599.58,1359.32 L1594.93,1363.32 L1590.28,1366.45 L1585.63,1368.95 L1580.98,1370.97 L1576.34,1372.62 L1571.69,1374 L1567.04,1375.09 L1562.39,1375.95 L1557.74,1376.6 L1553.09,1377.09 L1548.45,1377.43 L1543.8,1377.66 L1539.15,1377.8 L1529.85,1377.88 L1515.91,1377.71 L1506.61,1377.3 L1488.02,1376.17 L1478.72,1375.7 L1469.42,1375.44 L1450.83,1375.33 L1436.89,1375.39 L1432.24,1375.47 L1427.59,1375.66 L1422.94,1375.95 L1404.35,1377.48 L1399.7,1377.74 L1395.05,1377.88 L1385.75,1377.82 L1376.46,1377.42 L1367.16,1376.74 L1353.21,1375.31 L1343.92,1374.17 L1316.03,1370.47 L1306.73,1369.32 L1250.95,1363.21 L1102.2,1346.36 L1065.02,1342.33 L1023.18,1337.93 L990.65,1334.63 L953.46,1330.97" stroke="#35ad6b" stroke-width="6.2"/>
<path d="M1836.64,1403.61 L1808.75,1400.34 L1776.21,1396.19 L1743.68,1391.68 L1729.73,1389.49 L1720.43,1388.15 L1715.79,1387.61 L1697.19,1385.97 L1687.9,1385.4 L1683.25,1385.25 L1678.6,1385.23 L1673.95,1385.35 L1664.65,1385.91 L1650.71,1387 L1646.06,1387.28 L1627.47,1388.09 L1618.17,1388.35 L1613.52,1388.37 L1608.87,1388.29 L1604.22,1388.11 L1594.93,1387.46 L1585.63,1386.54 L1571.69,1384.89 L1567.04,1384.25 L1557.74,1382.74 L1553.09,1381.87 L1543.8,1379.91 L1534.5,1377.66 L1529.85,1376.42 L1520.55,1373.64 L1515.91,1372.04 L1511.26,1370.22 L1506.61,1368.14 L1501.96,1365.77 L1497.31,1363.04 L1492.66,1359.84 L1488.02,1356.02 L1483.37,1351.29 L1478.72,1345.22 L1474.07,1337.14 L1469.42,1326.08 L1464.78,1310.71 L1460.13,1289.47 L1455.48,1260.89 L1450.83,1224.09 L1446.18,1179.61 L1441.53,1131.3 L1436.89,1088.75 L1432.24,1066.76 L1427.59,1075.86 L1422.94,1111.52 L1413.64,1206.23 L1409,1246.77 L1404.35,1279 L1399.7,1303.3 L1395.05,1320.93 L1390.4,1333.42 L1385.75,1342.21 L1381.1,1348.45 L1376.46,1352.96 L1371.81,1356.29 L1367.16,1358.79 L1362.51,1360.69 L1357.86,1362.12 L1353.21,1363.2 L1348.57,1364 L1343.92,1364.57 L1339.27,1364.95 L1334.62,1365.18 L1329.97,1365.29 L1320.68,1365.26 L1311.38,1365 L1297.44,1364.48 L1283.49,1363.76 L1269.55,1362.81 L1255.6,1361.7 L1237.01,1360.04 L1213.76,1357.79 L1171.93,1353.48 L1102.2,1345.95 L1051.07,1340.57 L1004.59,1335.83 L953.46,1330.83" stroke="#35ad6b" stroke-width="6.2"/>
<path d="M1836.64,1400.83 L1818.05,1398.11 L1804.1,1395.86 L1790.16,1393.4 L1776.21,1390.7 L1762.27,1387.64 L1752.97,1385.38 L1743.68,1382.88 L1739.03,1381.47 L1734.38,1379.96 L1725.08,1376.68 L1715.79,1373.15 L1711.14,1371.28 L1706.49,1369.2 L1701.84,1366.85 L1697.19,1364.18 L1692.54,1361.1 L1687.9,1357.47 L1683.25,1353.12 L1678.6,1347.8 L1673.95,1341.18 L1669.3,1332.83 L1664.65,1322.22 L1660,1308.83 L1655.36,1292.12 L1650.71,1271.71 L1646.06,1247.39 L1641.41,1219.39 L1632.11,1157.41 L1627.47,1128.95 L1622.82,1108.12 L1618.17,1099.62 L1613.52,1105.73 L1608.87,1124.83 L1604.22,1152.48 L1594.93,1214.83 L1590.28,1243.48 L1585.63,1268.6 L1580.98,1289.87 L1576.34,1307.39 L1571.69,1321.51 L1567.04,1332.66 L1562.39,1341.33 L1557.74,1348 L1553.09,1353.13 L1548.45,1357.07 L1543.8,1360.13 L1539.15,1362.51 L1534.5,1364.41 L1529.85,1365.93 L1525.2,1367.17 L1520.55,1368.2 L1515.91,1369.03 L1511.26,1369.67 L1506.61,1370.14 L1501.96,1370.5 L1492.66,1370.95 L1474.07,1371.5 L1432.24,1373.22 L1427.59,1373.53 L1422.94,1373.94 L1404.35,1375.84 L1399.7,1376.19 L1395.05,1376.4 L1385.75,1376.47 L1381.1,1376.37 L1371.81,1375.93 L1362.51,1375.23 L1353.21,1374.32 L1343.92,1373.26 L1316.03,1369.73 L1306.73,1368.63 L1274.19,1365.25 L1246.3,1362.23 L1120.8,1348.19 L1088.26,1344.63 L1018.54,1337.3 L953.46,1330.84" stroke="#ad75e0" stroke-width="6.2"/>
<path d="M1836.64,1403.53 L1808.75,1400.25 L1776.21,1396.1 L1743.68,1391.59 L1729.73,1389.4 L1720.43,1388.06 L1715.79,1387.53 L1697.19,1385.9 L1687.9,1385.34 L1683.25,1385.19 L1678.6,1385.17 L1673.95,1385.3 L1664.65,1385.87 L1650.71,1386.99 L1646.06,1387.29 L1622.82,1388.34 L1613.52,1388.51 L1608.87,1388.47 L1604.22,1388.32 L1594.93,1387.76 L1580.98,1386.49 L1567.04,1385 L1562.39,1384.4 L1553.09,1383.03 L1539.15,1380.64 L1520.55,1377.03 L1515.91,1376.04 L1506.61,1373.78 L1497.31,1371.17 L1492.66,1369.75 L1483.37,1366.6 L1478.72,1364.85 L1474.07,1362.95 L1469.42,1360.84 L1464.78,1358.41 L1460.13,1355.5 L1455.48,1351.92 L1450.83,1347.47 L1446.18,1341.87 L1441.53,1334.81 L1436.89,1325.94 L1432.24,1314.88 L1427.59,1301.36 L1422.94,1285.15 L1418.29,1266.17 L1413.64,1244.67 L1404.35,1198.38 L1399.7,1178.21 L1395.05,1164.63 L1390.4,1160.85 L1385.75,1167.89 L1381.1,1183.91 L1376.46,1205.34 L1371.81,1228.68 L1367.16,1251.37 L1362.51,1271.96 L1357.86,1289.8 L1353.21,1304.74 L1348.57,1316.9 L1343.92,1326.57 L1339.27,1334.11 L1334.62,1339.9 L1329.97,1344.31 L1325.33,1347.64 L1320.68,1350.17 L1316.03,1352.09 L1311.38,1353.58 L1306.73,1354.74 L1302.08,1355.67 L1297.44,1356.43 L1292.79,1357.01 L1288.14,1357.46 L1283.49,1357.79 L1274.19,1358.16 L1269.55,1358.23 L1260.25,1358.19 L1246.3,1357.79 L1232.36,1357.08 L1218.41,1356.16 L1204.47,1355.09 L1185.88,1353.52 L1167.28,1351.82 L1139.39,1349.08 L1018.54,1336.87 L953.46,1330.57" stroke="#ad75e0" stroke-width="6.2"/>
<path d="M1822.7,1402.58 L1771.56,1396.31 L1720.43,1389.18 L1705.56,1387.82 L1692.54,1386.91 L1683.25,1386.61 L1674.88,1386.76 L1646.99,1389.08 L1625.61,1390.43 L1613.52,1390.94 L1602.37,1390.92 L1587.49,1390.23 L1561.46,1388.37 L1515.91,1383.5 L1488.02,1380.25 L1471.28,1378.86 L1449.9,1378.07 L1434.1,1377.8 L1424.8,1378 L1405.28,1379.27 L1396.91,1379.59 L1385.75,1379.42 L1372.74,1378.64 L1351.36,1376.36 L1303.94,1369.95 L1116.15,1348.32 L1039.92,1339.99 L967.4,1332.58" stroke="#1c6ee1" stroke-width="6.3"/>
</g>
<rect x="976.7" y="802.2" width="836.7" height="674.7" fill="none" stroke="#000" stroke-width="3.6"/>
<path d="M1766.92,1476.9 V1464.4 M1720.43,1476.9 V1470.9 M1673.95,1476.9 V1470.9 M1627.47,1476.9 V1470.9 M1580.98,1476.9 V1470.9 M1534.5,1476.9 V1464.4 M1488.02,1476.9 V1470.9 M1441.53,1476.9 V1470.9 M1395.05,1476.9 V1470.9 M1348.57,1476.9 V1470.9 M1302.08,1476.9 V1464.4 M1255.6,1476.9 V1470.9 M1209.12,1476.9 V1470.9 M1162.63,1476.9 V1470.9 M1116.15,1476.9 V1470.9 M1069.67,1476.9 V1464.4 M1023.18,1476.9 V1470.9" stroke="#000" stroke-width="3.4" fill="none"/>
<text x="1069.67" y="1514.2" text-anchor="middle" font-size="29.5">150</text>
<text x="1302.08" y="1514.2" text-anchor="middle" font-size="29.5">145</text>
<text x="1534.5" y="1514.2" text-anchor="middle" font-size="29.5">140</text>
<text x="1766.92" y="1514.2" text-anchor="middle" font-size="29.5">135</text>
<text x="1395.05" y="1568" text-anchor="middle" font-size="35">B.E. (eV)</text>
<text transform="translate(947.8,1139.55) rotate(-90)" text-anchor="middle" font-size="35">Intensity (cps)</text>
<text x="1005" y="900" font-size="79">(d)</text>
<text x="1715.9" y="838" font-size="35" letter-spacing="0.8">Pb 4f</text>
<text x="1290.6" y="1142.1" font-size="35" fill="#ad75e0">143.0</text>
<text x="1447" y="1037.1" font-size="35" fill="#35ad6b">142.2</text>
<text x="1521.8" y="1088.7" font-size="35" fill="#ad75e0">138.2</text>
<text x="1676.5" y="958.7" font-size="35" fill="#35ad6b">137.3</text>
</svg>
</body></html>
